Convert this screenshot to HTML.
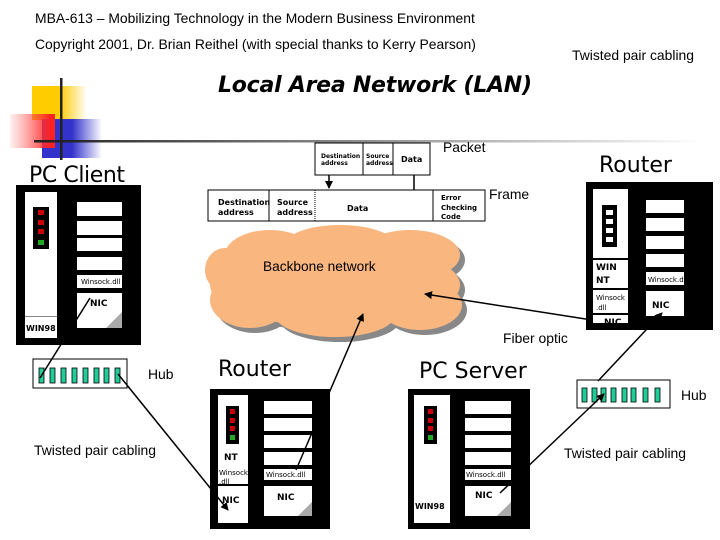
<!DOCTYPE html>
<html><head><meta charset="utf-8"><style>
body{margin:0;background:#fff}
svg{display:block}
text{font-family:"DejaVu Sans","Liberation Sans",sans-serif}
.s{font-family:"Liberation Sans",sans-serif}
.b{font-weight:bold}
</style></head><body>
<svg width="720" height="540" viewBox="0 0 720 540" xmlns="http://www.w3.org/2000/svg">
<defs>
<linearGradient id="gy" x1="0" x2="1"><stop offset="0.5" stop-color="#fc0"/><stop offset="1" stop-color="#fc0" stop-opacity="0"/></linearGradient>
<linearGradient id="gr" x1="1" x2="0"><stop offset="0.1" stop-color="#f22"/><stop offset="1" stop-color="#f66" stop-opacity="0.1"/></linearGradient>
<linearGradient id="gb" x1="0" x2="1"><stop offset="0.5" stop-color="#33c"/><stop offset="1" stop-color="#33c" stop-opacity="0"/></linearGradient>
<linearGradient id="gl" x1="0" x2="1"><stop offset="0" stop-color="#222"/><stop offset="1" stop-color="#222" stop-opacity="0"/></linearGradient>
<marker id="ar" markerWidth="8" markerHeight="8" refX="7" refY="4" orient="auto" markerUnits="userSpaceOnUse"><path d="M0,0 L8,4 L0,8z" fill="#000"/></marker>
</defs>
<text x="35" y="23" font-size="13.9" class="s">MBA-613 – Mobilizing Technology in the Modern Business Environment</text>
<text x="35" y="49" font-size="13.9" class="s">Copyright 2001, Dr. Brian Reithel (with special thanks to Kerry Pearson)</text>
<text x="572" y="60" font-size="13.9" class="s">Twisted pair cabling</text>
<text x="218" y="92" font-size="22" font-style="italic" font-weight="bold" textLength="314">Local Area Network (LAN)</text>
<!-- deco -->
<rect x="32" y="86" width="55" height="34" fill="url(#gy)"/>
<rect x="42" y="119" width="60" height="39" fill="url(#gb)"/>
<rect x="10" y="114" width="45" height="34" fill="url(#gr)"/>
<rect x="34" y="140" width="670" height="2.5" fill="url(#gl)"/>
<rect x="60" y="78" width="2.5" height="82" fill="#222"/>
<!-- PC Client -->
<text x="29" y="182" font-size="22" textLength="96">PC Client</text>
<rect x="16" y="185" width="125" height="160" fill="#000"/>
<rect x="25" y="192" width="32" height="146" fill="#fff"/>
<rect x="25" y="316" width="32" height="1" fill="#888"/>
<rect x="72" y="198" width="55" height="135" fill="#000"/>
<g fill="#fff"><rect x="77" y="202" width="45" height="14"/><rect x="77" y="221" width="45" height="14"/><rect x="77" y="238" width="45" height="13"/><rect x="77" y="257" width="45" height="13"/><rect x="77" y="275" width="45" height="13"/><rect x="77" y="293" width="45" height="35"/></g>
<polygon points="122,312 122,328 106,328" fill="#aaa"/>
<rect x="33" y="207" width="16" height="42" fill="#000"/>
<g fill="#c00"><rect x="38" y="210" width="6" height="5"/><rect x="38" y="220" width="6" height="5"/><rect x="38" y="229" width="6" height="5"/></g><rect x="38" y="240" width="6" height="5" fill="#2a2"/>
<text x="81" y="284" font-size="7">Winsock.dll</text>
<text x="90" y="306" font-size="9" font-weight="bold" font-family="Liberation Serif">NIC</text>
<text x="26" y="331" font-size="8" font-weight="bold">WIN98</text>
<!-- Packet -->
<rect x="315" y="143" width="115" height="32" fill="#fff" stroke="#000"/>
<line x1="363" y1="143" x2="363" y2="175" stroke="#000"/><line x1="393" y1="143" x2="393" y2="175" stroke="#000"/>
<text x="321" y="158" font-size="6" class="b">Destination</text><text x="321" y="165" font-size="6" class="b">address</text>
<text x="366" y="158" font-size="6" class="b">Source</text><text x="366" y="165" font-size="6" class="b">address</text>
<text x="401" y="162" font-size="8" class="b">Data</text>
<text x="443" y="152" font-size="13.9" class="s">Packet</text>
<line x1="329" y1="175" x2="329" y2="188" stroke="#000" stroke-width="1.5" marker-end="url(#ar)"/>
<line x1="414" y1="175" x2="414" y2="190" stroke="#000" stroke-width="1.5"/>
<!-- Frame -->
<rect x="208" y="190" width="277" height="31" fill="#fff" stroke="#000"/>
<line x1="269" y1="190" x2="269" y2="221" stroke="#000"/><line x1="315" y1="190" x2="315" y2="221" stroke="#000" stroke-dasharray="1,1"/><line x1="433" y1="190" x2="433" y2="221" stroke="#000"/>
<text x="218" y="205" font-size="8" class="b">Destination</text><text x="218" y="215" font-size="8" class="b">address</text>
<text x="277" y="205" font-size="8" class="b">Source</text><text x="277" y="215" font-size="8" class="b">address</text>
<text x="347" y="211" font-size="8" class="b">Data</text>
<text x="441" y="200" font-size="7" class="b">Error</text><text x="441" y="210" font-size="7" class="b">Checking</text><text x="441" y="219" font-size="7" class="b">Code</text>
<text x="489" y="199" font-size="13.9" class="s">Frame</text>
<!-- Cloud -->
<g fill="#888" transform="translate(5,5)">
<ellipse cx="335" cy="285" rx="125" ry="42"/><ellipse cx="270" cy="255" rx="45" ry="25"/><ellipse cx="340" cy="245" rx="55" ry="20"/><ellipse cx="410" cy="255" rx="50" ry="25"/><ellipse cx="250" cy="300" rx="40" ry="28"/><ellipse cx="335" cy="315" rx="60" ry="22"/><ellipse cx="420" cy="305" rx="42" ry="25"/><ellipse cx="225" cy="270" rx="20" ry="22"/></g>
<g fill="#f9b67f">
<ellipse cx="335" cy="285" rx="125" ry="42"/><ellipse cx="270" cy="255" rx="45" ry="25"/><ellipse cx="340" cy="245" rx="55" ry="20"/><ellipse cx="410" cy="255" rx="50" ry="25"/><ellipse cx="250" cy="300" rx="40" ry="28"/><ellipse cx="335" cy="315" rx="60" ry="22"/><ellipse cx="420" cy="305" rx="42" ry="25"/><ellipse cx="225" cy="270" rx="20" ry="22"/></g>
<text x="263" y="271" font-size="13.7" class="s">Backbone network</text>
<!-- Router right -->
<text x="599" y="172" font-size="22">Router</text>
<rect x="586" y="182" width="127" height="148" fill="#000"/>
<rect x="593" y="189" width="35" height="134" fill="#fff"/>
<rect x="593" y="258" width="35" height="2" fill="#000"/><rect x="593" y="288" width="35" height="2" fill="#000"/><rect x="593" y="313" width="35" height="2" fill="#000"/>
<rect x="640" y="194" width="50" height="128" fill="#000"/>
<g fill="#fff"><rect x="646" y="200" width="38" height="13"/><rect x="646" y="218" width="38" height="13"/><rect x="646" y="236" width="38" height="13"/><rect x="646" y="254" width="38" height="13"/><rect x="646" y="272" width="38" height="13"/><rect x="646" y="291" width="38" height="25"/></g>
<rect x="602" y="205" width="15" height="42" fill="#000"/>
<g fill="#fff"><rect x="606" y="210" width="7" height="5"/><rect x="606" y="219" width="7" height="5"/><rect x="606" y="228" width="7" height="5"/><rect x="606" y="237" width="7" height="5"/></g>
<text x="596" y="270" font-size="9" font-weight="bold">WIN</text><text x="596" y="283" font-size="9" font-weight="bold">NT</text>
<text x="596" y="300" font-size="7">Winsock</text><text x="596" y="310" font-size="7">.dll</text>
<text x="604" y="325" font-size="9" font-weight="bold" font-family="Liberation Serif">NIC</text>
<text x="648" y="282" font-size="7">Winsock.dll</text>
<text x="652" y="308" font-size="9" font-weight="bold" font-family="Liberation Serif">NIC</text>
<text x="503" y="343" font-size="13.9" class="s">Fiber optic</text>
<line x1="592" y1="320" x2="425" y2="294" stroke="#000" stroke-width="1.5" marker-end="url(#ar)"/>
<!-- Hubs -->
<rect x="33" y="359" width="94" height="29" fill="#fff" stroke="#000"/>
<g fill="#2c9" stroke="#000" stroke-width="0.8"><rect x="39" y="368" width="5" height="15"/><rect x="50" y="368" width="5" height="15"/><rect x="61" y="368" width="5" height="15"/><rect x="72" y="368" width="5" height="15"/><rect x="83" y="368" width="5" height="15"/><rect x="94" y="368" width="5" height="15"/><rect x="104" y="368" width="5" height="15"/><rect x="115" y="368" width="5" height="15"/></g>
<text x="148" y="379" font-size="13.9" class="s">Hub</text>
<rect x="577" y="380" width="93" height="28" fill="#fff" stroke="#000"/>
<g fill="#2c9" stroke="#000" stroke-width="0.8"><rect x="582" y="388" width="5" height="14"/><rect x="592" y="388" width="5" height="14"/><rect x="601" y="388" width="5" height="14"/><rect x="611" y="388" width="5" height="14"/><rect x="622" y="388" width="5" height="14"/><rect x="631" y="388" width="5" height="14"/><rect x="643" y="388" width="5" height="14"/><rect x="655" y="388" width="5" height="14"/></g>
<text x="681" y="400" font-size="13.9" class="s">Hub</text>
<text x="34" y="455" font-size="13.9" class="s">Twisted pair cabling</text>
<text x="564" y="458" font-size="13.9" class="s">Twisted pair cabling</text>
<!-- Bottom Router -->
<text x="218" y="376" font-size="22">Router</text>
<rect x="210" y="389" width="120" height="140" fill="#000"/>
<rect x="218" y="395" width="30" height="128" fill="#fff"/>
<rect x="218" y="484" width="30" height="2" fill="#000"/>
<rect x="258" y="395" width="62" height="128" fill="#000"/>
<g fill="#fff"><rect x="264" y="401" width="48" height="13"/><rect x="264" y="418" width="48" height="13"/><rect x="264" y="435" width="48" height="13"/><rect x="264" y="452" width="48" height="13"/><rect x="264" y="469" width="48" height="11"/><rect x="264" y="486" width="48" height="30"/></g>
<polygon points="312,502 312,516 298,516" fill="#aaa"/>
<rect x="226" y="406" width="13" height="38" fill="#000"/>
<g fill="#c00"><rect x="230" y="409" width="5" height="5"/><rect x="230" y="418" width="5" height="5"/><rect x="230" y="426" width="5" height="5"/></g><rect x="230" y="435" width="5" height="5" fill="#2a2"/>
<text x="224" y="460" font-size="9" font-weight="bold">NT</text>
<text x="219" y="475" font-size="7">Winsock</text><text x="219" y="484" font-size="7">.dll</text>
<text x="222" y="503" font-size="9" font-weight="bold" font-family="Liberation Serif">NIC</text>
<text x="266" y="477" font-size="7">Winsock.dll</text>
<text x="277" y="500" font-size="9" font-weight="bold" font-family="Liberation Serif">NIC</text>
<!-- PC Server -->
<text x="419" y="378" font-size="22">PC Server</text>
<rect x="408" y="389" width="122" height="140" fill="#000"/>
<rect x="414" y="395" width="36" height="128" fill="#fff"/>
<rect x="458" y="395" width="62" height="128" fill="#000"/>
<g fill="#fff"><rect x="465" y="401" width="46" height="13"/><rect x="465" y="418" width="46" height="13"/><rect x="465" y="435" width="46" height="13"/><rect x="465" y="452" width="46" height="13"/><rect x="465" y="469" width="46" height="11"/><rect x="465" y="486" width="46" height="30"/></g>
<polygon points="511,502 511,516 497,516" fill="#aaa"/>
<rect x="424" y="406" width="13" height="38" fill="#000"/>
<g fill="#c00"><rect x="428" y="409" width="5" height="5"/><rect x="428" y="418" width="5" height="5"/><rect x="428" y="426" width="5" height="5"/></g><rect x="428" y="435" width="5" height="5" fill="#2a2"/>
<text x="466" y="477" font-size="7">Winsock.dll</text>
<text x="475" y="498" font-size="9" font-weight="bold" font-family="Liberation Serif">NIC</text>
<text x="415" y="509" font-size="8" font-weight="bold">WIN98</text>
<!-- connectors -->
<line x1="90" y1="298" x2="40" y2="378" stroke="#000" stroke-width="1.5"/>
<line x1="118" y1="374" x2="228" y2="510" stroke="#000" stroke-width="1.5" marker-end="url(#ar)"/>
<line x1="296" y1="470" x2="363" y2="314" stroke="#000" stroke-width="1.5" marker-end="url(#ar)"/>
<line x1="500" y1="493" x2="604" y2="394" stroke="#000" stroke-width="1.5" marker-end="url(#ar)"/>
<line x1="598" y1="381" x2="662" y2="313" stroke="#000" stroke-width="1.5" marker-end="url(#ar)"/>
</svg>
</body></html>
